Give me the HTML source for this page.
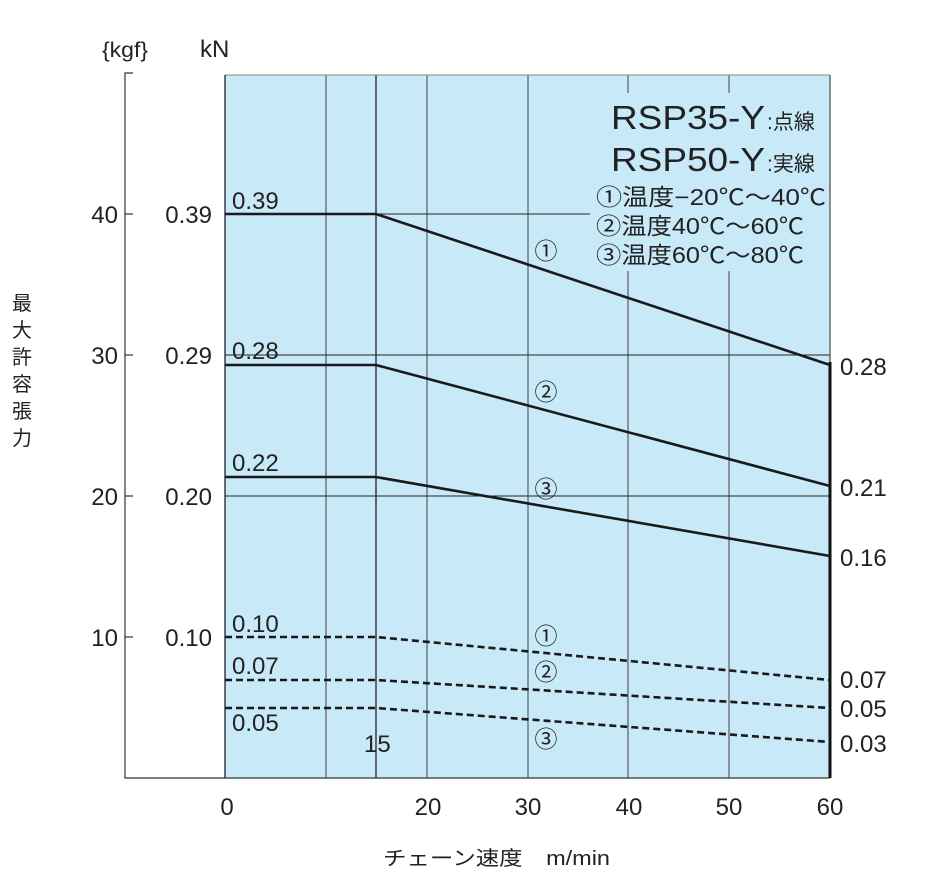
<!DOCTYPE html>
<html><head><meta charset="utf-8"><style>
body{margin:0;background:#fff;}
svg text{font-family:"Liberation Sans","Noto Sans CJK JP",sans-serif;fill:#222;}
</style></head><body>
<svg width="925" height="873" viewBox="0 0 925 873" xmlns="http://www.w3.org/2000/svg">
<rect x="225" y="75" width="605" height="703" fill="#c8e9f8"/>
<g stroke="#666" stroke-width="1.3">
<line x1="326" y1="75" x2="326" y2="778"/>
<line x1="427" y1="75" x2="427" y2="778"/>
<line x1="528" y1="75" x2="528" y2="778"/>
<line x1="628" y1="75" x2="628" y2="778"/>
<line x1="729" y1="75" x2="729" y2="778"/>
</g>
<line x1="376" y1="75" x2="376" y2="778" stroke="#222" stroke-width="1.3"/>
<line x1="225" y1="75" x2="830" y2="75" stroke="#888" stroke-width="1"/>
<line x1="225" y1="214" x2="590" y2="214" stroke="#222" stroke-width="1"/>
<line x1="225" y1="355" x2="830" y2="355" stroke="#222" stroke-width="1"/>
<line x1="225" y1="496" x2="830" y2="496" stroke="#222" stroke-width="1"/>
<rect x="598" y="93" width="230" height="178" fill="#c8e9f8"/>
<line x1="225" y1="75" x2="225" y2="778" stroke="#222" stroke-width="1.3"/>
<line x1="830" y1="75" x2="830" y2="778" stroke="#555" stroke-width="1.3"/>
<line x1="830" y1="362" x2="830" y2="778" stroke="#111" stroke-width="3"/>
<g stroke="#333" stroke-width="1.2" fill="none">
<polyline points="133,73 125,73 125,778 830,778"/>
<line x1="125" y1="214" x2="133" y2="214"/>
<line x1="125" y1="355" x2="133" y2="355"/>
<line x1="125" y1="496" x2="133" y2="496"/>
<line x1="125" y1="637" x2="133" y2="637"/>
</g>
<g stroke="#1a1a1a" stroke-width="2.6" fill="none">
<polyline points="225,214 376,214 830,365"/>
<polyline points="225,365 376,365 830,486"/>
<polyline points="225,477 376,477 830,556"/>
<g stroke-dasharray="7,4">
<polyline points="225,637 376,637 830,680"/>
<polyline points="225,680 376,680 830,708"/>
<polyline points="225,708 376,708 830,742"/>
</g>
</g>
<g font-size="24">
<text x="102" y="57" font-size="21" textLength="46" lengthAdjust="spacingAndGlyphs">{kgf}</text>
<text x="200" y="57">kN</text>
<text x="118" y="223" text-anchor="end">40</text>
<text x="118" y="364" text-anchor="end">30</text>
<text x="118" y="505" text-anchor="end">20</text>
<text x="118" y="646" text-anchor="end">10</text>
<text x="212" y="223" text-anchor="end">0.39</text>
<text x="212" y="364" text-anchor="end">0.29</text>
<text x="212" y="505" text-anchor="end">0.20</text>
<text x="212" y="646" text-anchor="end">0.10</text>
<text x="232" y="209">0.39</text>
<text x="232" y="359">0.28</text>
<text x="232" y="471">0.22</text>
<text x="232" y="632">0.10</text>
<text x="232" y="674">0.07</text>
<text x="232" y="731">0.05</text>
<text x="364" y="752">15</text>
<text x="840" y="375">0.28</text>
<text x="840" y="496">0.21</text>
<text x="840" y="566">0.16</text>
<text x="840" y="688">0.07</text>
<text x="840" y="717">0.05</text>
<text x="840" y="752">0.03</text>
<text x="227" y="815" text-anchor="middle">0</text>
<text x="428" y="815" text-anchor="middle">20</text>
<text x="528" y="815" text-anchor="middle">30</text>
<text x="629" y="815" text-anchor="middle">40</text>
<text x="729" y="815" text-anchor="middle">50</text>
<text x="830" y="815" text-anchor="middle">60</text>
</g>
<g font-size="23" text-anchor="middle">
<text x="546" y="259">①</text>
<text x="546" y="400">②</text>
<text x="546" y="497">③</text>
<text x="546" y="644">①</text>
<text x="546" y="680">②</text>
<text x="546" y="747">③</text>
</g>
<g font-size="20" text-anchor="middle">
<text x="22" y="310">最</text>
<text x="22" y="337">大</text>
<text x="22" y="364">許</text>
<text x="22" y="391">容</text>
<text x="22" y="418">張</text>
<text x="22" y="445">力</text>
</g>
<text x="383" y="865" font-size="20" textLength="227" lengthAdjust="spacingAndGlyphs">チェーン速度　m/min</text>
<text x="611" y="129" font-size="33" textLength="154" lengthAdjust="spacingAndGlyphs">RSP35-Y</text>
<text x="767" y="129" font-size="21">:点線</text>
<text x="611" y="171" font-size="33" textLength="154" lengthAdjust="spacingAndGlyphs">RSP50-Y</text>
<text x="767" y="171" font-size="21">:実線</text>
<text x="596" y="205" font-size="23" textLength="230" lengthAdjust="spacingAndGlyphs">①温度−20℃～40℃</text>
<text x="596" y="234" font-size="23" textLength="208" lengthAdjust="spacingAndGlyphs">②温度40℃～60℃</text>
<text x="596" y="263" font-size="23" textLength="208" lengthAdjust="spacingAndGlyphs">③温度60℃～80℃</text>
</svg>
</body></html>
